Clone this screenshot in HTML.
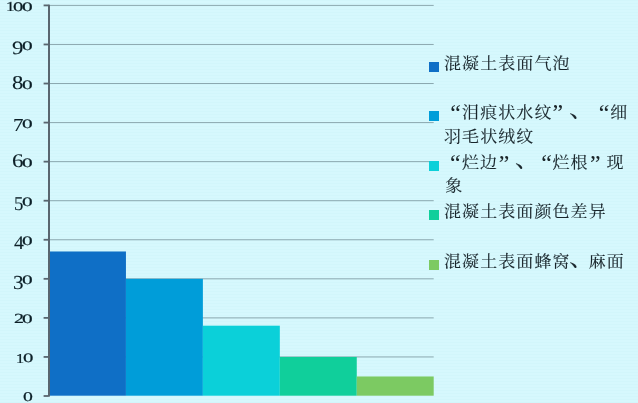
<!DOCTYPE html>
<html lang="zh-CN">
<head>
<meta charset="utf-8">
<title>混凝土表面缺陷统计</title>
<style>
html,body{margin:0;padding:0;}
html{background:#d4f7fc;}
body{width:638px;height:403px;overflow:hidden;position:relative;
  background:#d4f7fc;
  background-image:repeating-linear-gradient(to bottom,#d2f6fb 0px,#d2f6fb 1.5px,#d6f8fd 1.5px,#d6f8fd 3px);
  font-family:"Liberation Serif","Noto Serif CJK SC",serif;}
svg{position:absolute;left:0;top:0;}
.yl{position:absolute;left:0;top:0;color:#0c1f27;font-family:"Liberation Serif",serif;text-rendering:geometricPrecision;}
.yl span{position:absolute;line-height:1;white-space:nowrap;transform-origin:0 0;}
.mk{position:absolute;left:429px;width:10.1px;height:10.1px;}
.lt{position:absolute;left:444.4px;height:24px;line-height:24px;font-size:16px;letter-spacing:1.06px;transform:scaleX(1.06);transform-origin:0 0;color:#18252b;-webkit-text-stroke:0.12px #18252b;white-space:nowrap;}
.q{-webkit-text-stroke:0;display:inline-block;box-sizing:content-box;font-size:22.5px;line-height:0;letter-spacing:0;color:#1a2529;position:relative;top:1.6px;}
.dn{display:inline-block;transform:scale(1.45);transform-origin:12% 80%;}
</style>
</head>
<body>
<svg width="638" height="403" viewBox="0 0 638 403">
<line x1="50" y1="356.94" x2="433.7" y2="356.94" stroke="#8ba8af" stroke-width="1"/>
<line x1="50" y1="317.88" x2="433.7" y2="317.88" stroke="#8ba8af" stroke-width="1"/>
<line x1="50" y1="278.82" x2="433.7" y2="278.82" stroke="#8ba8af" stroke-width="1"/>
<line x1="50" y1="239.76" x2="433.7" y2="239.76" stroke="#8ba8af" stroke-width="1"/>
<line x1="50" y1="200.70" x2="433.7" y2="200.70" stroke="#8ba8af" stroke-width="1"/>
<line x1="50" y1="161.64" x2="433.7" y2="161.64" stroke="#8ba8af" stroke-width="1"/>
<line x1="50" y1="122.58" x2="433.7" y2="122.58" stroke="#8ba8af" stroke-width="1"/>
<line x1="50" y1="83.52" x2="433.7" y2="83.52" stroke="#8ba8af" stroke-width="1"/>
<line x1="50" y1="44.46" x2="433.7" y2="44.46" stroke="#8ba8af" stroke-width="1"/>
<line x1="50" y1="5.40" x2="433.7" y2="5.40" stroke="#8ba8af" stroke-width="1"/>
<rect x="49.00" y="251.48" width="76.94" height="144.22" fill="#0f6fc6"/>
<rect x="125.94" y="278.82" width="76.94" height="116.88" fill="#009dd9"/>
<rect x="202.88" y="325.69" width="76.94" height="70.01" fill="#0bd0d9"/>
<rect x="279.82" y="356.94" width="76.94" height="38.76" fill="#10cf9b"/>
<rect x="356.76" y="376.47" width="76.94" height="19.23" fill="#7cca62"/>
<rect x="48" y="4.6" width="2" height="392.00" fill="#59666f"/>
<rect x="43.6" y="395.10" width="5" height="1.8" fill="#59666f"/>
<rect x="43.6" y="356.04" width="5" height="1.8" fill="#59666f"/>
<rect x="43.6" y="316.98" width="5" height="1.8" fill="#59666f"/>
<rect x="43.6" y="277.92" width="5" height="1.8" fill="#59666f"/>
<rect x="43.6" y="238.86" width="5" height="1.8" fill="#59666f"/>
<rect x="43.6" y="199.80" width="5" height="1.8" fill="#59666f"/>
<rect x="43.6" y="160.74" width="5" height="1.8" fill="#59666f"/>
<rect x="43.6" y="121.68" width="5" height="1.8" fill="#59666f"/>
<rect x="43.6" y="82.62" width="5" height="1.8" fill="#59666f"/>
<rect x="43.6" y="43.56" width="5" height="1.8" fill="#59666f"/>
<rect x="43.6" y="4.50" width="5" height="1.8" fill="#59666f"/>
</svg>
<div class="yl"><span style="left:22.53px;top:389.56px;font-size:13.29px;transform:scaleX(1.486);-webkit-text-stroke:0.2px #0c1f27;">0</span></div>
<div class="yl"><span style="left:15.55px;top:351.71px;font-size:13.52px;transform:scaleX(1.195);-webkit-text-stroke:0.2px #0c1f27;">1</span><span style="left:22.53px;top:351.71px;font-size:12.96px;transform:scaleX(1.607);-webkit-text-stroke:0.2px #0c1f27;">0</span></div>
<div class="yl"><span style="left:13.53px;top:312.71px;font-size:13.93px;transform:scaleX(1.440);-webkit-text-stroke:0.2px #0c1f27;">2</span><span style="left:21.61px;top:312.68px;font-size:12.89px;transform:scaleX(1.659);-webkit-text-stroke:0.2px #0c1f27;">0</span></div>
<div class="yl"><span style="left:12.54px;top:273.72px;font-size:19.93px;transform:scaleX(1.057);-webkit-text-stroke:0.1px #0c1f27;">3</span><span style="left:21.61px;top:273.66px;font-size:12.89px;transform:scaleX(1.659);-webkit-text-stroke:0.2px #0c1f27;">0</span></div>
<div class="yl"><span style="left:13.56px;top:233.63px;font-size:19.17px;transform:scaleX(1.030);-webkit-text-stroke:0.1px #0c1f27;">4</span><span style="left:21.61px;top:234.53px;font-size:12.89px;transform:scaleX(1.659);-webkit-text-stroke:0.2px #0c1f27;">0</span></div>
<div class="yl"><span style="left:13.58px;top:194.68px;font-size:19.68px;transform:scaleX(0.956);-webkit-text-stroke:0.1px #0c1f27;">5</span><span style="left:21.61px;top:195.51px;font-size:12.89px;transform:scaleX(1.659);-webkit-text-stroke:0.2px #0c1f27;">0</span></div>
<div class="yl"><span style="left:11.59px;top:151.57px;font-size:19.29px;transform:scaleX(1.196);-webkit-text-stroke:0.1px #0c1f27;">6</span><span style="left:21.61px;top:156.73px;font-size:12.89px;transform:scaleX(1.659);-webkit-text-stroke:0.2px #0c1f27;">0</span></div>
<div class="yl"><span style="left:12.57px;top:116.07px;font-size:18.38px;transform:scaleX(1.142);-webkit-text-stroke:0.1px #0c1f27;">7</span><span style="left:21.61px;top:117.70px;font-size:12.89px;transform:scaleX(1.659);-webkit-text-stroke:0.2px #0c1f27;">0</span></div>
<div class="yl"><span style="left:11.76px;top:73.59px;font-size:19.57px;transform:scaleX(1.157);-webkit-text-stroke:0.1px #0c1f27;">8</span><span style="left:21.61px;top:78.68px;font-size:12.89px;transform:scaleX(1.659);-webkit-text-stroke:0.2px #0c1f27;">0</span></div>
<div class="yl"><span style="left:11.60px;top:38.72px;font-size:19.02px;transform:scaleX(1.197);-webkit-text-stroke:0.1px #0c1f27;">9</span><span style="left:21.61px;top:39.55px;font-size:12.89px;transform:scaleX(1.659);-webkit-text-stroke:0.2px #0c1f27;">0</span></div>
<div class="yl"><span style="left:5.61px;top:-0.34px;font-size:13.83px;transform:scaleX(1.245);-webkit-text-stroke:0.2px #0c1f27;">1</span><span style="left:12.73px;top:-0.47px;font-size:12.99px;transform:scaleX(1.592);-webkit-text-stroke:0.2px #0c1f27;">0</span><span style="left:21.61px;top:0.53px;font-size:12.89px;transform:scaleX(1.659);-webkit-text-stroke:0.2px #0c1f27;">0</span></div>
<div class="mk" style="top:61.5px;background:#0f6fc6"></div>
<div class="lt" style="top:52.3px">混凝土表面气泡</div>
<div class="mk" style="top:111.2px;background:#009dd9"></div>
<div class="lt" style="top:101.0px"><span class="q" style="width:15.94px;text-align:right;padding-right:1.13px;top:2.9px">“</span><span style="margin-left:0.0px">泪痕状水纹</span><span class="q" style="width:16.42px;text-align:left;padding-left:0.0px;top:2.3px">”</span><span class="dn">、</span><span class="q" style="width:20.19px;text-align:right;padding-right:0.75px;top:2.9px">“</span><span style="margin-left:0.0px">细</span></div>
<div class="lt" style="top:125.4px">羽毛状绒纹</div>
<div class="mk" style="top:160.9px;background:#0bd0d9"></div>
<div class="lt" style="top:151.4px"><span class="q" style="width:15.75px;text-align:right;padding-right:1.13px;top:2.9px">“</span>烂边<span class="q" style="width:16.51px;text-align:left;padding-left:0.57px;top:2.3px">”</span><span class="dn">、</span><span class="q" style="width:16.6px;text-align:right;padding-right:0.57px;top:2.9px">“</span>烂根<span class="q" style="width:15.57px;text-align:left;padding-left:1.42px;top:2.3px">”</span>现</div>
<div class="lt" style="top:174.2px"><span style="margin-left:1.23px">象</span></div>
<div class="mk" style="top:210.2px;background:#10cf9b"></div>
<div class="lt" style="top:200.1px">混凝土表面颜色差异</div>
<div class="mk" style="top:259.8px;background:#7cca62"></div>
<div class="lt" style="top:250.2px">混凝土表面蜂窝<span class="dn">、</span>麻面</div>
</body>
</html>
